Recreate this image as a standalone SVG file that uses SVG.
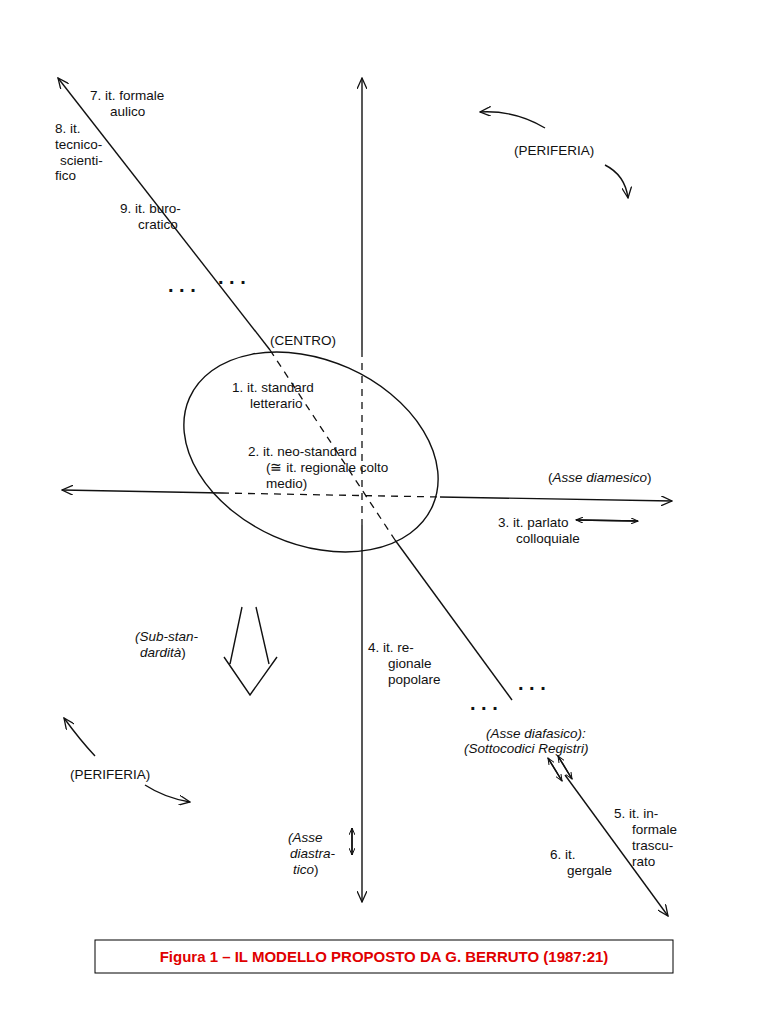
<svg xmlns="http://www.w3.org/2000/svg" width="768" height="1024" viewBox="0 0 768 1024">
<style>
text{font-family:"Liberation Sans",Arial,sans-serif;font-size:13.5px;fill:#111}
.i{font-style:italic}
.dots{font-size:20px;font-weight:bold}
.l{stroke:#111;stroke-width:1.4;fill:none}
.d{stroke:#111;stroke-width:1.3;fill:none;stroke-dasharray:7 6}
</style>
<defs>
<marker id="a" markerWidth="12" markerHeight="10" refX="11" refY="5" orient="auto" markerUnits="userSpaceOnUse"><path d="M0,0 L11,5 L0,10" fill="none" stroke="#111" stroke-width="1.3"/></marker>
<marker id="s" markerWidth="8" markerHeight="6" refX="7" refY="3" orient="auto" markerUnits="userSpaceOnUse"><path d="M0,0 L7,3 L0,6" fill="none" stroke="#111" stroke-width="1"/></marker>
</defs>
<rect width="768" height="1024" fill="#fff"/>
<g id="connectors">
<line class="l" x1="362" y1="350" x2="362" y2="78" marker-end="url(#a)"/>
<line class="d" x1="362" y1="350" x2="362" y2="525"/>
<line class="l" x1="362" y1="525" x2="362" y2="902" marker-end="url(#a)"/>
<line class="l" x1="222" y1="493" x2="62" y2="490" marker-end="url(#a)"/>
<line class="d" x1="222" y1="493" x2="440" y2="497"/>
<line class="l" x1="440" y1="497" x2="672" y2="501" marker-end="url(#a)"/>
<line class="l" x1="270" y1="350" x2="58" y2="78" marker-end="url(#a)"/>
<line class="d" x1="270" y1="350" x2="395" y2="540"/>
<line class="l" x1="395" y1="540" x2="512" y2="700"/>
<line class="l" x1="565" y1="775" x2="668" y2="916" marker-end="url(#a)"/>
<line class="l" x1="548" y1="758" x2="562" y2="781" marker-end="url(#s)"/>
<line class="l" x1="562" y1="781" x2="548" y2="758" marker-end="url(#s)"/>
<line class="l" x1="558" y1="756" x2="572" y2="779" marker-end="url(#s)"/>
<line class="l" x1="572" y1="779" x2="558" y2="756" marker-end="url(#s)"/>
<line class="l" x1="576" y1="520" x2="638" y2="521" marker-end="url(#s)"/>
<line class="l" x1="638" y1="521" x2="576" y2="520" marker-end="url(#s)"/>
<line class="l" x1="352" y1="855" x2="352" y2="828" marker-end="url(#s)"/>
<line class="l" x1="352" y1="828" x2="352" y2="855" marker-end="url(#s)"/>
<path class="l" d="M545,128 Q515,110 480,112" marker-end="url(#a)"/>
<path class="l" d="M605,165 Q625,175 628,198" marker-end="url(#a)"/>
<path class="l" d="M95,756 Q80,740 64,718" marker-end="url(#a)"/>
<path class="l" d="M145,785 Q165,798 190,802" marker-end="url(#a)"/>
<path class="l" d="M242,607 L230,664 M256,607 L269,664 M224,657 L250,695 L277,657"/>
</g>
<g id="ellipse"><ellipse class="l" cx="311" cy="452" rx="133" ry="92" transform="rotate(24 311 452)"/></g>
<g id="labels">
<text x="90" y="100">7.  it.  formale</text><text x="110" y="116">aulico</text>
<text x="55" y="133">8.  it.</text><text x="55" y="149">tecnico-</text><text x="60" y="165">scienti-</text><text x="55" y="180">fico</text>
<text x="120" y="213">9.  it.  buro-</text><text x="138" y="229">cratico</text>
<text x="168" y="292" class="dots">. . .</text><text x="218" y="284" class="dots">. . .</text>
<text x="270" y="345">(CENTRO)</text>
<text x="232" y="392">1.  it.  standard</text><text x="250" y="408">letterario</text>
<text x="248" y="456">2.  it.  neo-standard</text><text x="266" y="472">(≅  it.  regionale  colto</text><text x="266" y="488">medio)</text>
<text x="514" y="155">(PERIFERIA)</text>
<text x="548" y="482"><tspan>(</tspan><tspan class="i">Asse diamesico</tspan><tspan>)</tspan></text>
<text x="498" y="527">3.  it.  parlato</text><text x="516" y="543">colloquiale</text>
<text x="135" y="641" class="i">(Sub-stan-</text><text x="140" y="657"><tspan class="i">dardità</tspan>)</text>
<text x="368" y="652">4.  it.  re-</text><text x="388" y="668">gionale</text><text x="388" y="684">popolare</text>
<text x="518" y="690" class="dots">. . .</text><text x="470" y="710" class="dots">. . .</text>
<text x="486" y="738" class="i">(Asse diafasico):</text><text x="464" y="753" class="i">(Sottocodici Registri)</text>
<text x="70" y="779">(PERIFERIA)</text>
<text x="614" y="818">5.  it.  in-</text><text x="632" y="834">formale</text><text x="632" y="850">trascu-</text><text x="632" y="866">rato</text>
<text x="550" y="859">6.  it.</text><text x="567" y="875">gergale</text>
<text x="288" y="842" class="i">(Asse</text><text x="290" y="858" class="i">diastra-</text><text x="293" y="874"><tspan class="i">tico</tspan>)</text>
</g>
<g id="caption">
<rect x="95" y="940" width="578" height="33" fill="#fff" stroke="#000" stroke-width="1"/>
<text x="384" y="962" text-anchor="middle" style="font-size:15px;font-weight:bold;fill:#e00000">Figura 1 – IL MODELLO PROPOSTO DA  G. BERRUTO (1987:21)</text>
</g>
</svg>
